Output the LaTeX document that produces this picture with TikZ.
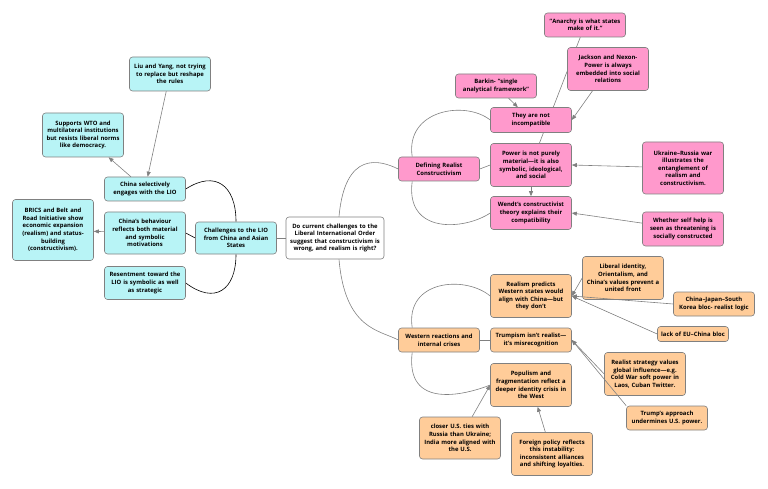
\documentclass[tikz,border=0pt]{standalone}
\usepackage{fontspec}
\setmainfont{Open Sans}
\usetikzlibrary{arrows.meta,backgrounds}
\definecolor{cyanf}{HTML}{B8F4F6}
\definecolor{pinkf}{HTML}{FF99CC}
\definecolor{orgf}{HTML}{FFCC99}
\definecolor{ln}{HTML}{808080}
\hyphenpenalty=10000
\exhyphenpenalty=10000
\begin{document}
\begin{tikzpicture}[x=1pt,y=-1pt,
 box/.style={draw=ln,rounded corners=3pt,line width=0.6pt,align=center,font=\fontsize{5.9}{7.6}\selectfont\bfseries,inner sep=2pt,minimum height=24pt},
 cy/.style={box,fill=cyanf,text width=77pt},
 pk/.style={box,fill=pinkf,text width=77pt},
 og/.style={box,fill=orgf,text width=77pt},
 br/.style={draw=ln,line width=0.6pt},
 brk/.style={draw=black,line width=0.6pt},
 ar/.style={draw=ln,line width=0.6pt,-{Triangle[length=5pt,width=4pt]}}]
\useasboundingbox (0,0) rectangle (768,489);
\node[box,fill=white,text width=94pt,minimum height=42pt] (root) at (335,238) {Do current challenges to the\\Liberal International Order\\suggest that constructivism is\\wrong, and realism is right?};
\node[cy,minimum height=32pt] (ch) at (236,238) {Challenges to the LIO\\from China and Asian\\States};
\node[cy,minimum height=34pt] (liu) at (170,74) {Liu and Yang, not trying\\to replace but reshape\\the rules};
\node[cy,minimum height=44pt] (wto) at (83,135) {Supports WTO and\\multilateral institutions\\but resists liberal norms\\like democracy.};
\node[cy] (sel) at (145,189) {China selectively\\engages with the LIO};
\node[cy,minimum height=61pt] (brics) at (53,230) {BRICS and Belt and\\Road Initiative show\\economic expansion\\(realism) and status-\\building\\(constructivism).};
\node[cy,minimum height=42pt] (beh) at (145,233) {China's behaviour\\reflects both material\\and symbolic\\motivations};
\node[cy,minimum height=33pt] (res) at (145,283) {Resentment toward the\\LIO is symbolic as well\\as strategic};
\node[pk] (def) at (439,169) {Defining Realist\\Constructivism};
\node[pk] (ana) at (585,25) {"Anarchy is what states\\make of it."};
\node[pk,minimum height=43pt] (jac) at (608,69) {Jackson and Nexon-\\Power is always\\embedded into social\\relations};
\node[pk] (bar) at (496,86) {Barkin- "single\\analytical framework"};
\node[pk,minimum height=25pt] (not) at (531,120) {They are not\\incompatible};
\node[pk,minimum height=43pt] (pow) at (531,165) {Power is not purely\\material—it is also\\symbolic, ideological,\\and social};
\node[pk,minimum height=52pt] (ukr) at (683,168) {Ukraine–Russia war\\illustrates the\\entanglement of\\realism and\\constructivism.};
\node[pk,minimum height=33pt] (wen) at (531,213) {Wendt's constructivist\\theory explains their\\compatibility};
\node[pk,minimum height=34pt] (whe) at (683,229) {Whether self help is\\seen as threatening is\\socially constructed};
\node[og] (wes) at (439,340) {Western reactions and\\internal crises};
\node[og,minimum height=43pt] (rea) at (531,296) {Realism predicts\\Western states would\\align with China—but\\they don't};
\node[og,minimum height=43pt] (lib) at (623,278) {Liberal identity,\\Orientalism, and\\China's values prevent a\\united front};
\node[og] (cjk) at (714,304) {China–Japan–South\\Korea bloc- realist logic};
\node[og,text width=67pt,minimum height=15pt] (eu) at (693,334) {lack of EU–China bloc};
\node[og] (tru) at (531,340) {Trumpism isn't realist—\\it's misrecognition};
\node[og,minimum height=43pt] (rst) at (645,374) {Realist strategy values\\global influence—e.g.\\Cold War soft power in\\Laos, Cuban Twitter.};
\node[og] (tap) at (667,418) {Trump's approach\\undermines U.S. power.};
\node[og,minimum height=43pt] (pop) at (531,385) {Populism and\\fragmentation reflect a\\deeper identity crisis in\\the West};
\node[og,minimum height=42pt] (clo) at (460,438) {closer U.S. ties with\\Russia than Ukraine;\\India more aligned with\\the U.S.};
\node[og,minimum height=43pt] (for) at (552,454) {Foreign policy reflects\\this instability:\\inconsistent alliances\\and shifting loyalties.};
\begin{scope}[on background layer]
\draw[br] (root.west) -- (ch.east);
\draw[br] (root.north) ++(4,0) .. controls (345,150) and (380,160) .. (def.west);
\draw[br] (root.south) ++(4,0) .. controls (345,330) and (380,330) .. (wes.west);
\draw[brk] (ch.north) .. controls (236,185) and (215,170) .. (sel.east);
\draw[brk] (ch.west) -- (beh.east);
\draw[brk] (ch.south) .. controls (236,290) and (215,305) .. (res.east);
\draw[br] (def.north west) ++(14,0) .. controls (405,110) and (465,100) .. (not.west);
\draw[br] (def.east) -- (pow.west);
\draw[br] (def.south west) ++(14,0) .. controls (405,235) and (465,230) .. (wen.west);
\draw[br] (wes.north west) ++(14,0) .. controls (405,280) and (465,275) .. (rea.west);
\draw[br] (wes.east) -- (tru.west);
\draw[br] (wes.south west) ++(14,0) .. controls (405,410) and (465,395) .. (pop.west);
\draw[br] (ana) -- (pow);
\end{scope}
\draw[ar] (sel) -- (wto);
\draw[ar] (liu) -- (sel);
\draw[ar] (beh) -- (brics);
\draw[ar] (bar) -- (not);
\draw[ar] (jac) -- (not.east);
\draw[ar] (pow) -- (wen);
\draw[ar] (ukr) -- (pow.east);
\draw[ar] (whe) -- (wen.east);
\draw[ar] (lib.west) -- (rea.east);
\draw[ar] (cjk.west) -- (rea.east);
\draw[ar] (eu.west) -- (rea.east);
\draw[ar] (rst.west) -- (tru.east);
\draw[ar] (tap.north west) -- (tru.east);
\draw[ar] (clo) -- (pop.west);
\draw[ar] (for) -- (pop);
\end{tikzpicture}
\end{document}
